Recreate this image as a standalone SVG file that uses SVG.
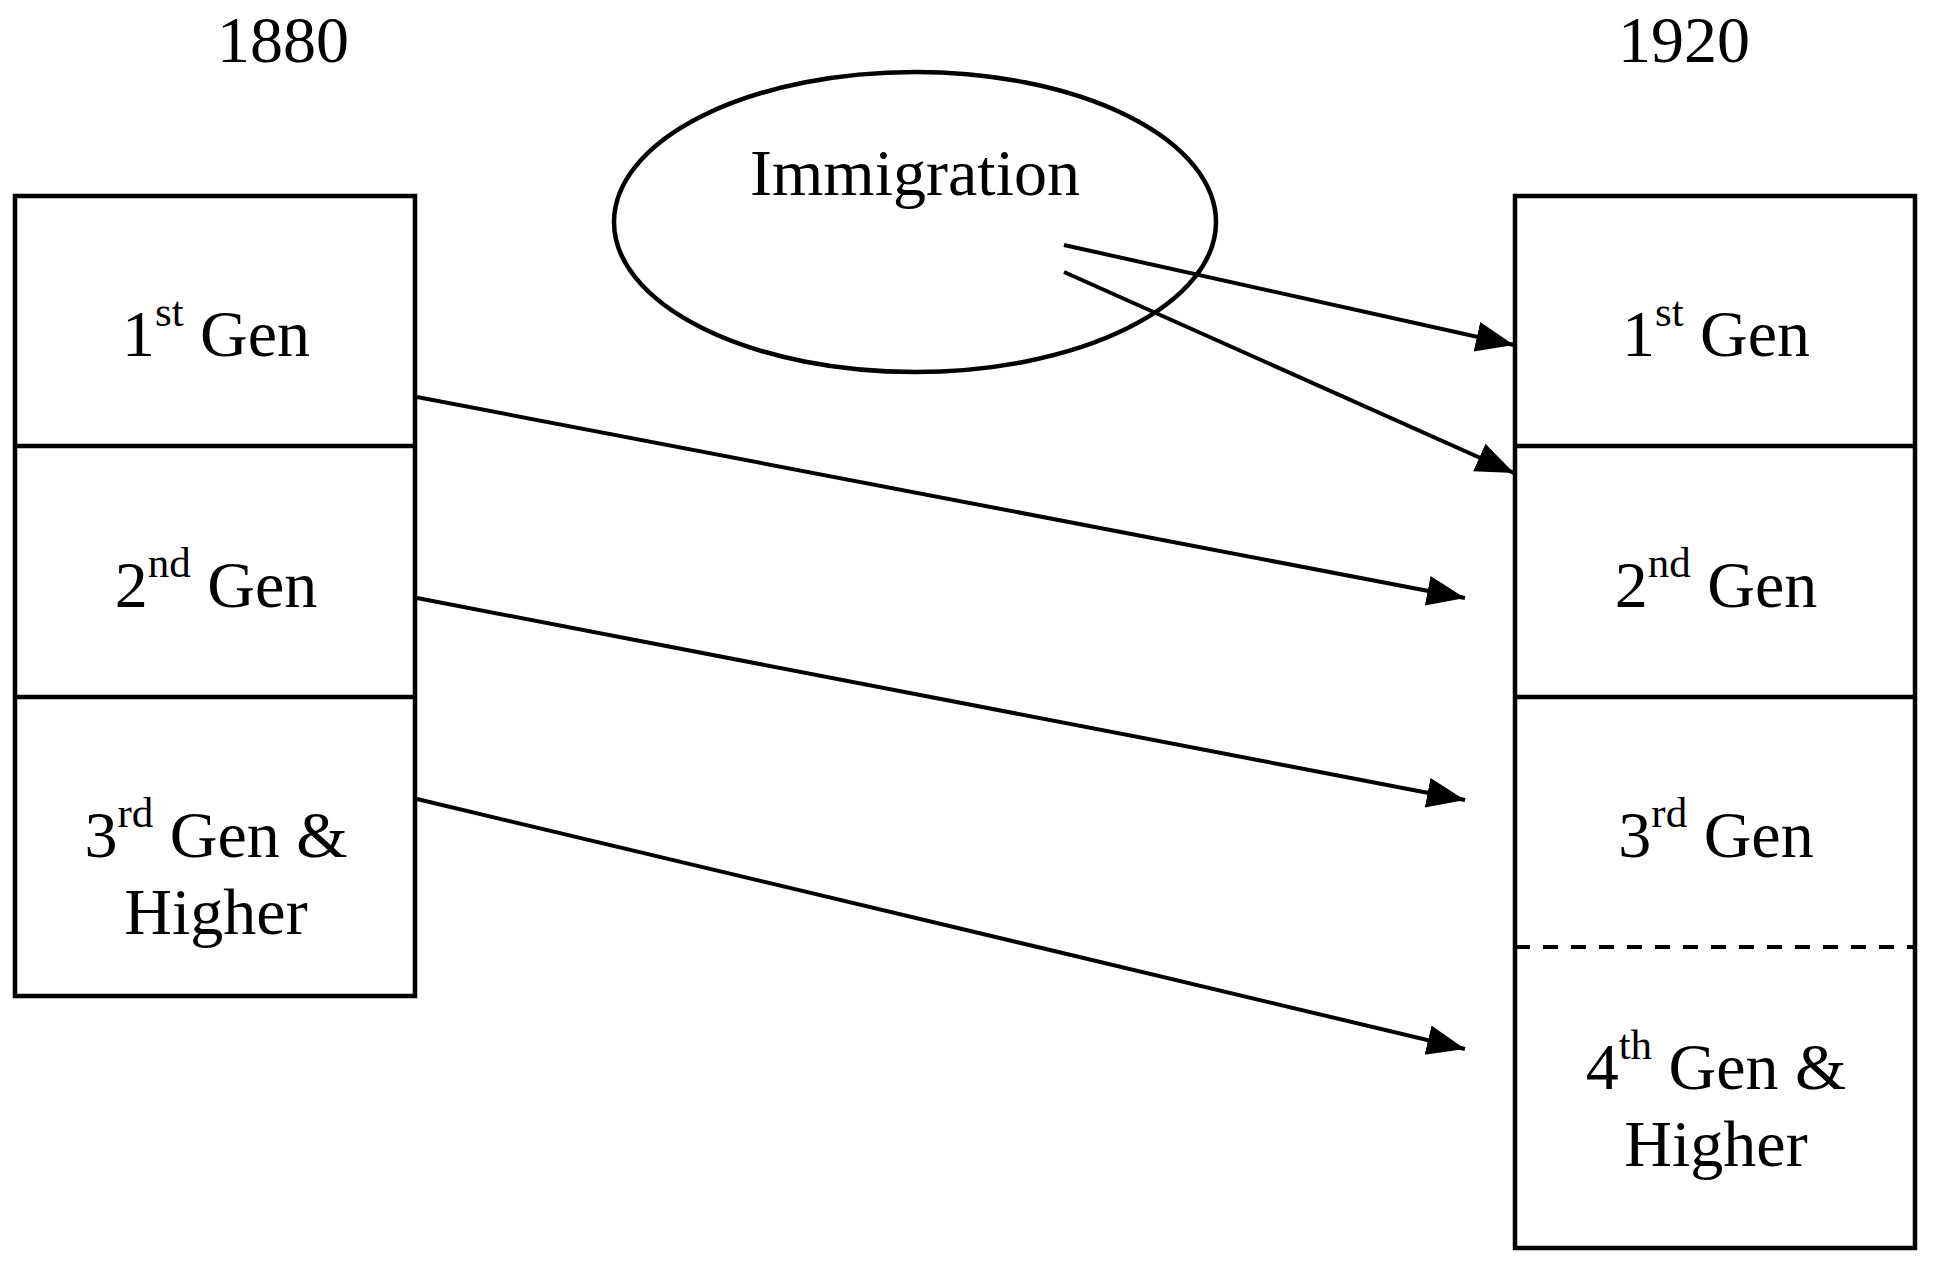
<svg xmlns="http://www.w3.org/2000/svg" width="1933" height="1287" viewBox="0 0 1933 1287">
<style>
text{font-family:"Liberation Serif","Times New Roman",serif;font-size:66px;fill:#000;text-anchor:middle}
.sup{font-size:43px}
.box{fill:none;stroke:#000;stroke-width:4.5}
.conn{stroke:#000;stroke-width:4;fill:none;marker-end:url(#ah)}
</style>
<defs>
<marker id="ah" markerUnits="userSpaceOnUse" markerWidth="40" markerHeight="32" refX="38" refY="15" orient="auto" viewBox="0 0 40 32">
<path d="M0,0 L38,15 L0,30 z" fill="#000"/>
</marker>
</defs>
<rect width="1933" height="1287" fill="#fff"/>
<g id="year1880"><text x="283" y="62">1880</text></g>
<g id="year1920"><text x="1684" y="62">1920</text></g>
<g id="immigration">
<ellipse cx="915" cy="222" rx="301" ry="150" class="box" stroke-width="4"/>
<text x="915" y="195">Immigration</text>
</g>
<g id="box1880">
<rect x="15" y="196" width="400" height="800" class="box"/>
<line x1="15" y1="446" x2="415" y2="446" stroke="#000" stroke-width="4.5"/>
<line x1="15" y1="697" x2="415" y2="697" stroke="#000" stroke-width="4.5"/>
</g>
<g id="l1st"><text x="216" y="356">1<tspan class="sup" dy="-30">st</tspan><tspan dy="30"> Gen</tspan></text></g>
<g id="l2nd"><text x="216" y="607">2<tspan class="sup" dy="-30">nd</tspan><tspan dy="30"> Gen</tspan></text></g>
<g id="l3rd"><text x="216" y="857">3<tspan class="sup" dy="-30">rd</tspan><tspan dy="30"> Gen &amp;</tspan></text>
<text x="216" y="934">Higher</text></g>
<g id="box1920">
<rect x="1515" y="196" width="400" height="1052" class="box"/>
<line x1="1515" y1="446" x2="1915" y2="446" stroke="#000" stroke-width="4.5"/>
<line x1="1515" y1="697" x2="1915" y2="697" stroke="#000" stroke-width="4.5"/>
<line x1="1515" y1="947" x2="1915" y2="947" stroke="#000" stroke-width="4" stroke-dasharray="15 13"/>
</g>
<g id="r1st"><text x="1716" y="356">1<tspan class="sup" dy="-30">st</tspan><tspan dy="30"> Gen</tspan></text></g>
<g id="r2nd"><text x="1716" y="607">2<tspan class="sup" dy="-30">nd</tspan><tspan dy="30"> Gen</tspan></text></g>
<g id="r3rd"><text x="1716" y="857">3<tspan class="sup" dy="-30">rd</tspan><tspan dy="30"> Gen</tspan></text></g>
<g id="r4th"><text x="1716" y="1089">4<tspan class="sup" dy="-30">th</tspan><tspan dy="30"> Gen &amp;</tspan></text>
<text x="1716" y="1166">Higher</text></g>
<g id="connectors">
<line class="conn" x1="1064" y1="245" x2="1514" y2="345"/>
<line class="conn" x1="1064" y1="272" x2="1514" y2="473"/>
<line class="conn" x1="417" y1="397" x2="1465" y2="598"/>
<line class="conn" x1="417" y1="598" x2="1465" y2="800"/>
<line class="conn" x1="417" y1="799" x2="1465" y2="1049"/>
</g>
</svg>
